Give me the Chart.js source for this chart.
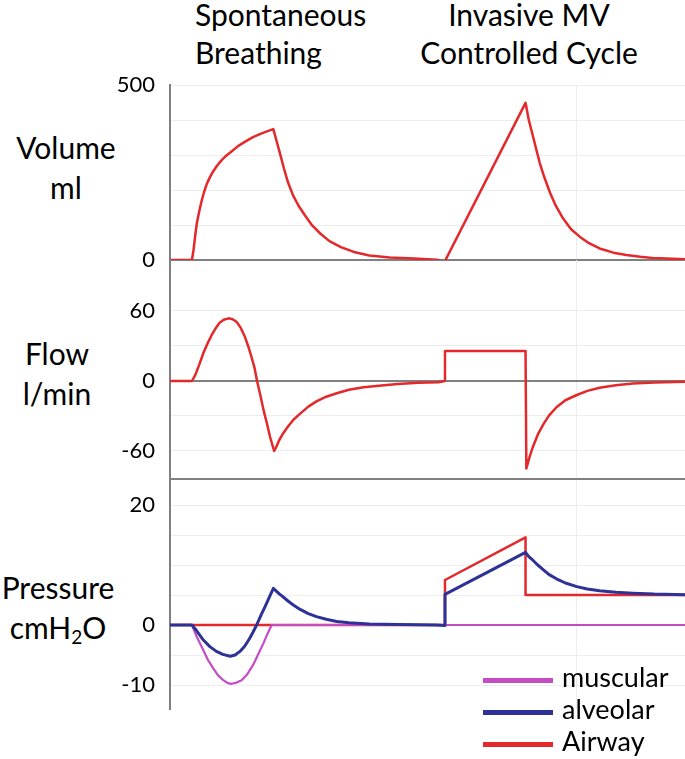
<!DOCTYPE html>
<html>
<head>
<meta charset="utf-8">
<script src="https://cdn.jsdelivr.net/npm/chart.js@4.4.1/dist/chart.umd.min.js"></script>
<style>
  body { margin: 0; background: #fff; font-family: Lato, "Open Sans", sans-serif; color: #000; }
  #page { position: relative; width: 685px; height: 759px; overflow: hidden; }
  .panel { position: absolute; left: 0; width: 685px; }
  .txt { position: absolute; font-size: 30px; line-height: 40px; white-space: nowrap; }
  .side { width: 140px; text-align: center; }
  .head { line-height: 38px; }
  sub { font-size: 19px; line-height: 0; vertical-align: -5px; }
  #legend { position: absolute; left: 483px; top: 661px; font-size: 27px; line-height: 32px; }
  #legend .row { white-space: nowrap; }
  #legend .sw { display: inline-block; width: 70px; height: 5px; vertical-align: middle; margin-right: 9px; }
</style>
</head>
<body>
<div id="page">
  <div class="txt head" style="left:195px; top:-5px;">Spontaneous<br>Breathing</div>
  <div class="txt head" style="left:409px; top:-5px; width:240px; text-align:center;">Invasive MV<br>Controlled Cycle</div>

  <div class="txt side" style="left:-4px; top:127px;">Volume<br>ml</div>
  <div class="txt side" style="left:-13px; top:333px;">Flow<br>l/min</div>
  <div class="txt side" style="left:-12px; top:567px;">Pressure<br>cmH<sub>2</sub>O</div>

  <div class="panel" style="top:55px; height:235px;"><canvas id="volChart"></canvas></div>
  <div class="panel" style="top:230px; height:279px;"><canvas id="flowChart"></canvas></div>
  <div class="panel" style="top:450px; height:289px;"><canvas id="presChart"></canvas></div>

  <div id="legend"></div>
</div>

<script>
// time axis (s)
const timeMax = 6.33;
const timeGrid = [5];

// volume, ml
const volTime = [0, 0.27, 0.29, 0.31, 0.33, 0.36, 0.39, 0.42, 0.45, 0.49, 0.53, 0.58, 0.63, 0.69, 0.76, 0.84, 0.93, 1.02, 1.12, 1.2, 1.27,
  1.31, 1.35, 1.4, 1.45, 1.51, 1.58, 1.66, 1.75, 1.85, 1.96, 2.1, 2.26, 2.45, 2.7, 3.0, 3.28, 3.33, 3.38,
  4.37, 4.41, 4.46, 4.5, 4.545, 4.6, 4.67, 4.74, 4.83, 4.93, 5.04, 5.15, 5.28, 5.45, 5.61, 5.78, 5.93, 6.1, 6.33];
const volValue = [0, 0, 30, 70, 105, 140, 170, 195, 216, 236, 253, 270, 284, 298, 311, 326, 339, 351, 361, 368, 374,
  340, 306, 262, 222, 186, 155, 127, 98, 75, 54, 37, 23, 13, 7, 4, 1, -3, -3,
  449, 400, 355, 318, 277, 237, 193, 156, 119, 88, 66, 48, 33, 21, 14, 9, 6, 4, 2];

// flow, l/min
const flowTime = [0, 0.27, 0.31, 0.36, 0.41, 0.46, 0.51, 0.56, 0.61, 0.66, 0.72, 0.77, 0.82, 0.87, 0.92, 0.96, 1.0, 1.04, 1.07,
  1.11, 1.15, 1.19, 1.23, 1.28, 1.31, 1.34, 1.39, 1.45, 1.52, 1.6, 1.7, 1.8, 1.92, 2.05, 2.2, 2.38, 2.6, 2.8, 3.05, 3.3,
  3.38, 3.38, 4.37, 4.38, 4.42, 4.46, 4.52, 4.59, 4.66, 4.75, 4.86, 5.0, 5.13, 5.28, 5.48, 5.69, 5.95, 6.33];
const flowValue = [0, 0, 5, 14, 24, 32, 39, 45, 50, 52.5, 53.7, 53, 50.5, 45.5, 38, 30, 21, 11, 0,
  -12, -25, -36, -48, -60, -56, -51, -45, -39, -33, -28, -22, -17.5, -13.5, -10.5, -7.5, -5.4, -3.8, -2.6, -1.6, -1,
  0, 25.7, 25.7, -75, -65, -56.5, -46, -37, -29.5, -22.5, -16.5, -12, -8.5, -5.8, -3.6, -2.2, -1.2, -0.6];

// pressures, cmH2O
const pmusTime = [0, 0.27, 0.33, 0.41, 0.47, 0.53, 0.59, 0.655, 0.71, 0.76, 0.82, 0.88, 0.95, 1.02, 1.08, 1.146, 1.2, 1.25, 6.33];
const pmusValue = [0, 0, -2, -4.2, -5.9, -7.2, -8.4, -9.2, -9.7, -9.8, -9.6, -9.2, -8.2, -6.7, -5, -3.1, -1.4, 0, 0];

const palvTime = [0, 0.27, 0.33, 0.41, 0.49, 0.57, 0.65, 0.74, 0.8, 0.86, 0.92, 0.98, 1.02, 1.065, 1.12, 1.17, 1.22, 1.27,
  1.31, 1.35, 1.39, 1.45, 1.52, 1.6, 1.7, 1.8, 1.92, 2.05, 2.2, 2.45, 2.8, 3.28, 3.37,
  3.38, 4.37, 4.41, 4.46, 4.52, 4.59, 4.66, 4.75, 4.86, 5.0, 5.13, 5.28, 5.48, 5.69, 5.95, 6.33];
const palvValue = [0, 0, -1, -2.5, -3.6, -4.4, -4.9, -5.2, -5, -4.4, -3.5, -2.2, -1.2, 0, 1.7, 3.1, 4.6, 6.1,
  5.6, 5.1, 4.7, 4, 3.3, 2.6, 1.9, 1.4, 0.95, 0.6, 0.38, 0.18, 0.08, 0, -0.1,
  5.1, 12.1, 11.4, 10.8, 10, 9.2, 8.4, 7.7, 7, 6.4, 6, 5.7, 5.45, 5.3, 5.15, 5.05];

const pawTime = [0, 3.38, 3.38, 4.37, 4.37, 6.33];
const pawValue = [0, 0, 7.5, 14.6, 5, 5];

// axis ticks
const volTicks = [0, 100, 200, 300, 400, 500];
const volLabels = [0, 500];
const flowTicks = [-84, -60, -30, 0, 30, 60];
const flowLabels = [-60, 0, 60];
const presTicks = [-10, -5, 0, 5, 10, 15, 20];
const presLabels = [-10, 0, 20];

const RED = '#e3292b', BLUE = '#2e3196', MAGENTA = '#c44cc4';

function pts(t, v) {
  return t.map(function (x, i) { return { x: x, y: v[i] }; });
}

function panel(id, datasets, y) {
  return new Chart(document.getElementById(id), {
    type: 'line',
    data: { datasets: datasets },
    options: {
      animation: false,
      responsive: true,
      maintainAspectRatio: false,
      // 30px above and below so the tick labels never push the plot area
      layout: { padding: { top: 30, bottom: 30, left: 0, right: 0 } },
      elements: {
        point: { radius: 0 },
        line: { tension: 0, borderJoinStyle: 'round' }
      },
      scales: {
        x: {
          type: 'linear',
          min: 0,
          max: timeMax,
          afterBuildTicks: function (s) { s.ticks = timeGrid.map(function (v) { return { value: v }; }); },
          afterFit: function (s) { s.height = 0; },
          ticks: { display: false },
          grid: { color: '#ededed', drawTicks: false },
          border: { display: false }
        },
        y: {
          min: y.min,
          max: y.max,
          afterBuildTicks: function (s) { s.ticks = y.ticks.map(function (v) { return { value: v }; }); },
          afterFit: function (s) { s.width = 170; },
          ticks: {
            padding: 15,
            color: '#000',
            font: { size: 22, family: 'Lato' },
            callback: function (v) { return y.labels.includes(v) ? String(v) : ''; }
          },
          grid: {
            drawTicks: false,
            color: function (c) { return y.dark.includes(c.tick.value) ? '#808080' : '#ededed'; },
            lineWidth: function (c) { return y.dark.includes(c.tick.value) ? 2 : 1; }
          },
          border: { display: true, color: '#808080', width: 2 }
        }
      },
      plugins: { legend: { display: false }, tooltip: { enabled: false } }
    }
  });
}

panel('volChart', [
  { label: 'Volume', data: pts(volTime, volValue), borderColor: RED, borderWidth: 2.5 }
], { min: 0, max: 500, ticks: volTicks, labels: volLabels, dark: [0] });

panel('flowChart', [
  { label: 'Flow', data: pts(flowTime, flowValue), borderColor: RED, borderWidth: 2.5 }
], { min: -84, max: 103.7, ticks: flowTicks, labels: flowLabels, dark: [0, -84] });

const pres = panel('presChart', [
  { label: 'muscular', data: pts(pmusTime, pmusValue), borderColor: MAGENTA, borderWidth: 2.2, order: 2 },
  { label: 'alveolar', data: pts(palvTime, palvValue), borderColor: BLUE, borderWidth: 3, order: 1 },
  { label: 'Airway', data: pts(pawTime, pawValue), borderColor: RED, borderWidth: 2.5, order: 3 }
], { min: -14, max: 24.17, ticks: presTicks, labels: presLabels, dark: [] });

// legend built from the pressure datasets
const legend = document.getElementById('legend');
pres.data.datasets.forEach(function (ds) {
  const row = document.createElement('div');
  row.className = 'row';
  const sw = document.createElement('span');
  sw.className = 'sw';
  sw.style.background = ds.borderColor;
  row.appendChild(sw);
  row.appendChild(document.createTextNode(ds.label));
  legend.appendChild(row);
});
</script>
</body>
</html>
